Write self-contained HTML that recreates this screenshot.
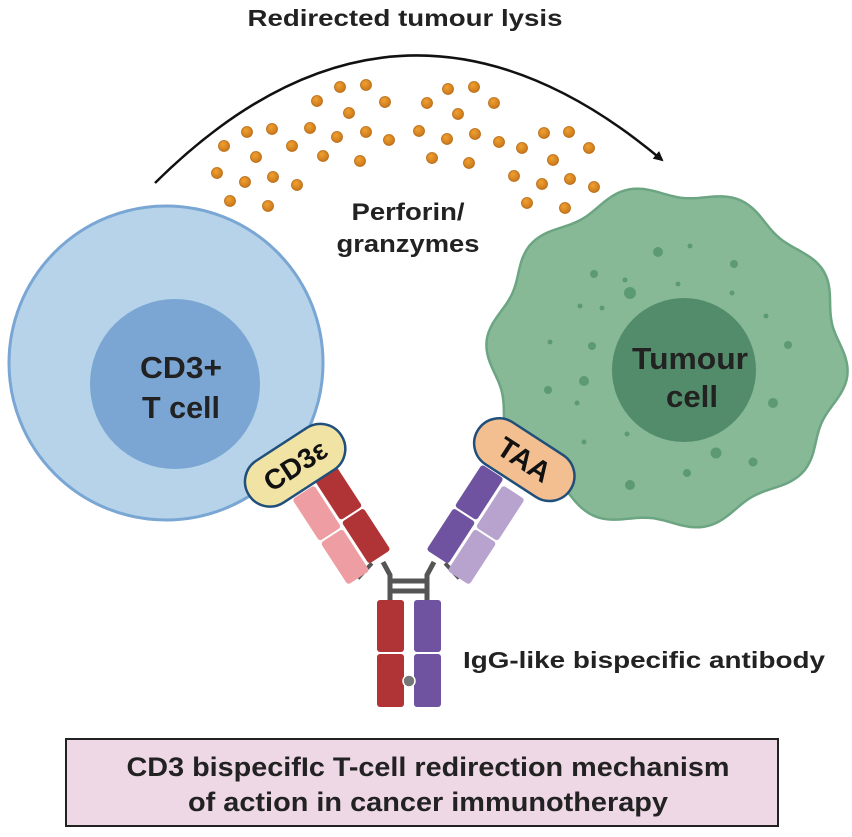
<!DOCTYPE html>
<html><head><meta charset="utf-8"><style>
html,body{margin:0;padding:0;background:#fff;}
svg{display:block;font-family:"Liberation Sans",Arial,sans-serif;font-weight:bold;}
</style></head><body>
<svg width="852" height="837" viewBox="0 0 852 837" xmlns="http://www.w3.org/2000/svg">
<defs>
<marker id="ah" markerWidth="10" markerHeight="10" refX="8" refY="5" orient="auto" markerUnits="userSpaceOnUse">
<path d="M0,0 L10,5 L0,10 Z" fill="#111"/>
</marker>
<radialGradient id="dg" cx="40%" cy="35%" r="65%"><stop offset="0" stop-color="#f0a030"/><stop offset="1" stop-color="#c9781a"/></radialGradient>
</defs>
<text x="405" y="26" font-size="23" text-anchor="middle" fill="#222" textLength="315" lengthAdjust="spacingAndGlyphs">Redirected tumour lysis</text>
<path d="M155,183 Q400,-60 662,160" fill="none" stroke="#111" stroke-width="2.5" marker-end="url(#ah)"/>
<g fill="url(#dg)" stroke="#b76a14" stroke-width="0.8">
<circle cx="340" cy="87" r="5.5"/><circle cx="366" cy="85" r="5.5"/><circle cx="317" cy="101" r="5.5"/><circle cx="349" cy="113" r="5.5"/><circle cx="385" cy="102" r="5.5"/><circle cx="427" cy="103" r="5.5"/><circle cx="448" cy="89" r="5.5"/><circle cx="474" cy="87" r="5.5"/><circle cx="494" cy="103" r="5.5"/><circle cx="458" cy="114" r="5.5"/>
<circle cx="247" cy="132" r="5.5"/><circle cx="272" cy="129" r="5.5"/><circle cx="310" cy="128" r="5.5"/><circle cx="337" cy="137" r="5.5"/><circle cx="366" cy="132" r="5.5"/><circle cx="389" cy="140" r="5.5"/><circle cx="419" cy="131" r="5.5"/><circle cx="447" cy="139" r="5.5"/><circle cx="475" cy="134" r="5.5"/><circle cx="499" cy="142" r="5.5"/><circle cx="522" cy="148" r="5.5"/><circle cx="544" cy="133" r="5.5"/><circle cx="569" cy="132" r="5.5"/><circle cx="589" cy="148" r="5.5"/>
<circle cx="224" cy="146" r="5.5"/><circle cx="256" cy="157" r="5.5"/><circle cx="292" cy="146" r="5.5"/><circle cx="323" cy="156" r="5.5"/><circle cx="360" cy="161" r="5.5"/><circle cx="432" cy="158" r="5.5"/><circle cx="469" cy="163" r="5.5"/><circle cx="553" cy="160" r="5.5"/>
<circle cx="217" cy="173" r="5.5"/><circle cx="245" cy="182" r="5.5"/><circle cx="273" cy="177" r="5.5"/><circle cx="297" cy="185" r="5.5"/><circle cx="514" cy="176" r="5.5"/><circle cx="542" cy="184" r="5.5"/><circle cx="570" cy="179" r="5.5"/><circle cx="594" cy="187" r="5.5"/>
<circle cx="230" cy="201" r="5.5"/><circle cx="268" cy="206" r="5.5"/><circle cx="527" cy="203" r="5.5"/><circle cx="565" cy="208" r="5.5"/>
</g>
<text x="408" y="220" font-size="24" text-anchor="middle" fill="#222" textLength="113" lengthAdjust="spacingAndGlyphs">Perforin/</text>
<text x="408" y="252" font-size="24" text-anchor="middle" fill="#222" textLength="143" lengthAdjust="spacingAndGlyphs">granzymes</text>

<circle cx="166" cy="363" r="157" fill="#b6d3ea" stroke="#7aa6d4" stroke-width="3"/>
<circle cx="175" cy="384" r="85" fill="#7ba6d3"/>
<text x="181" y="378" font-size="31" text-anchor="middle" fill="#222" textLength="82" lengthAdjust="spacingAndGlyphs">CD3+</text>
<text x="181" y="418" font-size="31" text-anchor="middle" fill="#222" textLength="78" lengthAdjust="spacingAndGlyphs">T cell</text>

<path id="blob" fill="#88b996" stroke="#6ca582" stroke-width="2.5" d=""/>
<g fill="#5c9a73">
<circle cx="658" cy="252" r="5"/><circle cx="690" cy="246" r="2.5"/><circle cx="734" cy="264" r="4"/><circle cx="594" cy="274" r="4"/><circle cx="625" cy="280" r="2.5"/><circle cx="630" cy="293" r="6"/><circle cx="678" cy="284" r="2.5"/><circle cx="732" cy="293" r="2.5"/><circle cx="580" cy="306" r="2.5"/><circle cx="602" cy="308" r="2.5"/><circle cx="766" cy="316" r="2.5"/><circle cx="550" cy="342" r="2.5"/><circle cx="592" cy="346" r="4"/><circle cx="788" cy="345" r="4"/><circle cx="584" cy="381" r="5"/><circle cx="548" cy="390" r="4"/><circle cx="577" cy="403" r="2.5"/><circle cx="773" cy="403" r="5"/><circle cx="584" cy="442" r="2.5"/><circle cx="627" cy="434" r="2.5"/><circle cx="716" cy="453" r="5.5"/><circle cx="753" cy="462" r="4.5"/><circle cx="687" cy="473" r="4"/><circle cx="630" cy="485" r="5"/>
</g>
<circle cx="684" cy="370" r="72" fill="#528c6b"/>
<text x="690" y="369" font-size="31" text-anchor="middle" fill="#222" textLength="116" lengthAdjust="spacingAndGlyphs">Tumour</text>
<text x="692" y="407" font-size="31" text-anchor="middle" fill="#222" textLength="52" lengthAdjust="spacingAndGlyphs">cell</text>

<!-- hinge -->
<g stroke="#555" stroke-width="5" fill="none">
<path d="M383,562 L390,575 L390,600"/>
<path d="M434,562 L427,575 L427,600"/>
<line x1="390" y1="581" x2="427" y2="581"/>
<line x1="390" y1="591" x2="427" y2="591"/>
</g>
<!-- Fc -->
<rect x="377" y="600" width="27" height="52" rx="3" fill="#b03336"/>
<rect x="377" y="654" width="27" height="53" rx="3" fill="#b03336"/>
<rect x="414" y="600" width="27" height="52" rx="3" fill="#6f53a0"/>
<rect x="414" y="654" width="27" height="53" rx="3" fill="#6f53a0"/>
<circle cx="409" cy="681" r="6" fill="#777" stroke="#fff" stroke-width="1.5"/>

<!-- left arm -->
<g transform="translate(383,562) rotate(-33)">
<line x1="-30" y1="0" x2="-10" y2="-5" stroke="#555" stroke-width="4"/>
<rect x="-42" y="-50" width="26" height="50" rx="3" fill="#ee9ea2"/>
<rect x="-42" y="-102" width="26" height="50" rx="3" fill="#ee9ea2"/>
<rect x="-13" y="-56" width="26" height="50" rx="3" fill="#b03336"/>
<rect x="-13" y="-108" width="26" height="50" rx="3" fill="#b03336"/>
<rect x="-76" y="-154" width="110" height="50" rx="25" fill="#f1e3a4" stroke="#1f4f7a" stroke-width="2.5"/>
<text x="-21" y="-119" font-size="28" text-anchor="middle" fill="#111">CD3ε</text>
</g>
<!-- right arm -->
<g transform="translate(434,562) rotate(33)">
<line x1="30" y1="0" x2="10" y2="-5" stroke="#555" stroke-width="4"/>
<rect x="16" y="-50" width="26" height="50" rx="3" fill="#b8a3cf"/>
<rect x="16" y="-102" width="26" height="50" rx="3" fill="#b8a3cf"/>
<rect x="-13" y="-56" width="26" height="50" rx="3" fill="#6f53a0"/>
<rect x="-13" y="-108" width="26" height="50" rx="3" fill="#6f53a0"/>
<rect x="-35" y="-160" width="110" height="50" rx="25" fill="#f3bf91" stroke="#1f4f7a" stroke-width="2.5"/>
<text x="20" y="-125" font-size="29" text-anchor="middle" fill="#111">TAA</text>
</g>

<text x="463" y="668" font-size="23" fill="#222" textLength="362" lengthAdjust="spacingAndGlyphs">IgG-like bispecific antibody</text>

<rect x="66" y="739" width="712" height="87" fill="#eed8e5" stroke="#222" stroke-width="2"/>
<text x="428" y="776" font-size="27" text-anchor="middle" fill="#222" textLength="603" lengthAdjust="spacingAndGlyphs">CD3 bispecifIc T-cell redirection mechanism</text>
<text x="428" y="811" font-size="27" text-anchor="middle" fill="#222" textLength="480" lengthAdjust="spacingAndGlyphs">of action in cancer immunotherapy</text>
</svg>
<script>
(function(){var cx=667,cy=358,pts=[],n=240;for(var i=0;i<=n;i++){var t=i/n*2*Math.PI;var r=170+6*Math.sin(10*t+0.6);var x=cx+r*Math.cos(t)*1.03,y=cy+r*Math.sin(t)*0.98;pts.push((i?'L':'M')+x.toFixed(1)+','+y.toFixed(1));}
document.getElementById('blob').setAttribute('d',pts.join(' ')+'Z');})();
</script>
</body></html>
